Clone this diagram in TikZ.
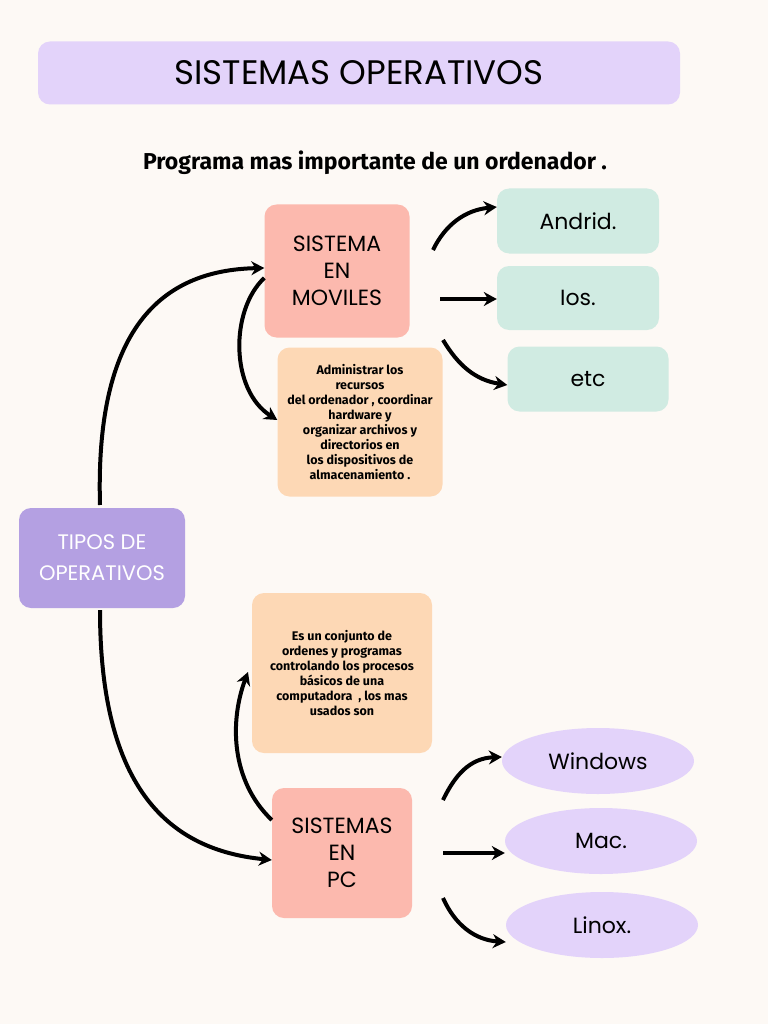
\documentclass[tikz,border=0pt]{standalone}
\usepackage{fontspec}
\setmainfont{Fira Sans}
\newfontfamily\hand{Poppins}
\usetikzlibrary{arrows.meta,shapes.geometric}
\definecolor{bg}{HTML}{FDF9F5}
\definecolor{lav}{HTML}{E3D3FA}
\definecolor{salmon}{HTML}{FCB9AE}
\definecolor{peach}{HTML}{FDD8B5}
\definecolor{mint}{HTML}{D0EBE2}
\definecolor{purp}{HTML}{B4A0E2}
\tikzset{
 box/.style={rounded corners=12pt,inner sep=0pt,align=center},
 hd/.style={font=\hand\fontsize{22}{27}\selectfont},
 sm/.style={font=\bfseries\fontsize{12.5}{15}\selectfont},
 arr/.style={line width=4pt,-{Stealth[length=13pt,width=14pt]}},
 ell/.style={ellipse,fill=lav,minimum width=192pt,minimum height=66pt,font=\hand\fontsize{22}{26}\selectfont}
}
\begin{document}
\begin{tikzpicture}[x=1pt,y=-1pt]
\fill[bg] (0,0) rectangle (768,1024);
\useasboundingbox (0,0) rectangle (768,1024);
\node[box,fill=lav,minimum width=642pt,minimum height=63pt,font=\hand\fontsize{34}{38}\selectfont] (title) at (359,73) {SISTEMAS OPERATIVOS};
\node[font=\bfseries\fontsize{23}{26}\selectfont] (sub) at (375,163) {Programa mas importante de un ordenador .};
\node[box,fill=salmon,minimum width=145pt,minimum height=133pt,hd] (mov) at (337,271) {SISTEMA\\EN\\MOVILES};
\node[box,fill=peach,minimum width=165pt,minimum height=149pt,sm] (adm) at (360,422) {Administrar los\\recursos\\del ordenador , coordinar\\hardware y\\organizar archivos y\\directorios en\\los dispositivos de\\almacenamiento .};
\node[box,fill=mint,minimum width=162pt,minimum height=65pt,hd] (and) at (578,221) {Andrid.};
\node[box,fill=mint,minimum width=162pt,minimum height=64pt,hd] (ios) at (578,298) {Ios.};
\node[box,fill=mint,minimum width=161pt,minimum height=65pt,hd] (etc) at (588,379) {etc};
\node[box,fill=purp,minimum width=166pt,minimum height=100pt,text=white,font=\hand\fontsize{21}{31}\selectfont] (tip) at (102,558) {TIPOS DE\\OPERATIVOS};
\node[box,fill=peach,minimum width=180pt,minimum height=160pt,sm] (conj) at (342,673) {Es un conjunto de\\ordenes y programas\\controlando los procesos\\básicos de una\\computadora\ \ , los mas\\usados son};
\node[box,fill=salmon,minimum width=140pt,minimum height=130pt,hd] (pc) at (342,853) {SISTEMAS\\EN\\PC};
\node[ell] (win) at (598,761) {Windows};
\node[ell] (mac) at (601,841) {Mac.};
\node[ell] (lin) at (602,925) {Linox.};
\draw[arr] (100,505) .. controls (95,330) and (160,270) .. (mov.west |- 0,268);
\draw[arr] (100,610) .. controls (100,790) and (170,850) .. (pc.west |- 0,860);
\draw[arr] (mov.west |- 0,278) .. controls (230,310) and (230,390) .. (adm.west |- 0,420);
\draw[arr] (pc.west |- 0,820) .. controls (230,780) and (230,720) .. (248,672);
\draw[arr] (433,250) .. controls (445,225) and (465,210) .. (and.west |- 0,207);
\draw[arr] (440,299) -- (ios.west |- 0,299);
\draw[arr] (443,340) .. controls (458,365) and (475,380) .. (etc.west |- 0,385);
\draw[arr] (443,800) .. controls (455,775) and (470,758) .. (win.west |- 0,757);
\draw[arr] (443,853) -- (mac.west |- 0,853);
\draw[arr] (443,898) .. controls (455,925) and (475,940) .. (lin.west |- 0,942);
\end{tikzpicture}
\end{document}
